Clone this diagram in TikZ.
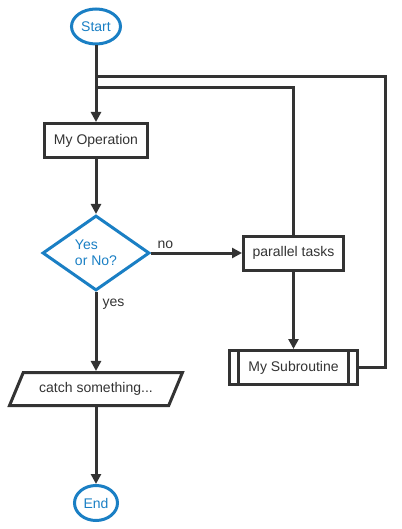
\documentclass[tikz,border=0pt]{standalone}
\usepackage{fontspec}
\setmainfont{Liberation Sans}
\usepackage{tikz}
\usetikzlibrary{shapes,arrows.meta}
\definecolor{flowblue}{HTML}{1A7FC4}
\definecolor{flowgray}{HTML}{333333}

\begin{document}
\begin{tikzpicture}[x=1pt,y=-1pt,
    every node/.style={font=\fontsize{14}{16}\selectfont,text=flowgray},
    terminal/.style={ellipse,draw=flowblue,line width=3pt,text=flowblue,
        inner sep=0pt,minimum height=35pt},
    process/.style={rectangle,draw=flowgray,line width=3pt,minimum height=34pt},
    decision/.style={diamond,draw=flowblue,line width=3pt,text=flowblue,
        align=left,inner sep=0pt,minimum width=107pt,minimum height=75pt},
    io/.style={trapezium,trapezium left angle=60,trapezium right angle=120,
        trapezium stretches=true,draw=flowgray,line width=3pt,
        minimum width=173pt,minimum height=33pt},
    flow/.style={draw=flowgray,line width=3pt,-{Triangle[length=10pt,width=10pt]}},
    link/.style={draw=flowgray,line width=3pt}]
    \pgfmathsetmacro{\cx}{96}
    \pgfmathsetmacro{\px}{293.5}
    \pgfmathsetmacro{\bar}{10.5}

    \useasboundingbox (0,0) rectangle (401,529);

    % Draw the main column
    \node [terminal,minimum width=49pt] (start) at (\cx,26.5) {Start};
    \node [process,minimum width=103pt] (op) at (\cx,140.5) {My Operation};
    \node [decision] (dec) at (\cx,253) {Yes\\or No?};
    \node [io] (catch) at (\cx,389) {catch something...};
    \node [terminal,minimum width=43pt] (end) at (\cx,503) {End};

    % Draw the parallel branch
    \node [process,minimum width=100pt] (par) at (\px,253) {parallel tasks};
    \node [process,minimum width=128pt] (sub) at (\px,367.5) {My Subroutine};
    \draw [link] ([xshift=\bar pt]sub.north west) -- ([xshift=\bar pt]sub.south west);
    \draw [link] ([xshift=-\bar pt]sub.north east) -- ([xshift=-\bar pt]sub.south east);

    % Draw the labels
    \node [anchor=base west] (no) at (154,248) {no};
    \node [anchor=base west] (yes) at (99,306) {yes};

    % Draw the connectors
    \coordinate (jA) at (\cx,77);
    \coordinate (jB) at (\cx,88);
    \coordinate (outer) at (385,77);
    \draw [flow] (start) -- (op);
    \draw [flow] (op) -- (dec);
    \draw [flow] (dec) -- (par);
    \draw [flow] (par) -- (sub);
    \draw [flow] (dec) -- (catch);
    \draw [flow] (catch) -- (end);
    \draw [link] (sub.east) -| (outer) -- (jA);
    \draw [link] (par.north) |- (jB);

\end{tikzpicture}
\end{document}
